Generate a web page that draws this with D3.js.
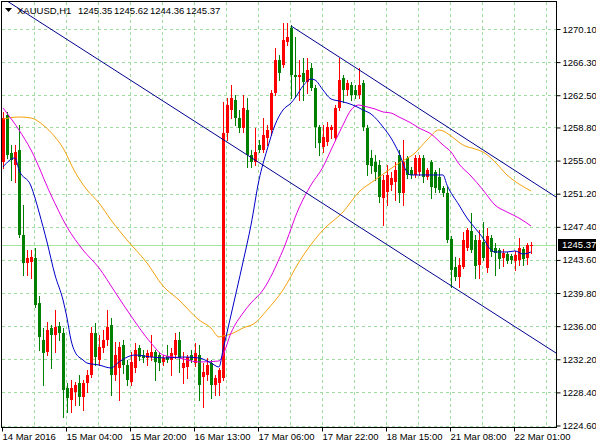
<!DOCTYPE html>
<html><head><meta charset="utf-8">
<script src="https://cdn.jsdelivr.net/npm/d3@7"></script>
<style>
html,body{margin:0;padding:0;background:#fff;}
svg{display:block;}
text{font-family:"Liberation Sans",Arial,sans-serif;}
</style></head><body>
<svg id="chart" width="596" height="441"></svg>
<script>
const symbolName = "XAUUSD,H1";
const candleOpen = [
1254.84,1260.23,1255.87,1254.50,1256.22,1246.46,1243.25,1243.36,1243.82,1238.66,
1234.41,1233.04,1235.79,1234.99,1236.02,1235.22,1228.90,1227.53,1228.44,1229.48,
1227.87,1229.48,1230.39,1235.22,1232.12,1233.49,1234.41,1236.13,1230.39,1231.20,
1233.84,1231.54,1229.59,1231.20,1233.49,1232.69,1232.35,1232.46,1233.04,1232.69,
1231.89,1232.58,1232.12,1232.69,1234.41,1231.20,1231.31,1232.69,1231.77,1232.69,
1230.16,1230.39,1231.77,1229.25,1229.48,1230.05,1258.17,1260.81,1261.95,1259.89,
1258.74,1260.81,1255.64,1254.84,1256.79,1256.22,1257.59,1258.51,1262.76,1266.54,
1265.97,1268.61,1270.22,1264.82,1264.59,1265.05,1264.02,1265.63,1263.33,1258.86,
1256.56,1257.13,1258.51,1257.59,1261.04,1264.48,1263.10,1263.68,1263.10,1262.53,
1263.90,1258.74,1255.30,1254.84,1254.50,1250.71,1251.40,1252.20,1252.54,1255.64,
1251.28,1255.30,1253.92,1253.35,1253.69,1255.30,1253.12,1254.84,1253.69,1253.12,
1251.85,1251.28,1246.00,1242.79,1241.64,1242.79,1244.97,1246.92,1245.89,1243.02,
1245.66,1242.68,1246.12,1244.97,1244.74,1243.82,1244.28,1244.05,1243.48,1243.59,
1244.85,1243.82,1245.35];
const candleHigh = [
1260.58,1260.58,1256.79,1256.79,1259.09,1249.90,1244.74,1244.74,1244.97,1239.46,
1235.79,1236.48,1236.13,1237.85,1236.48,1235.79,1229.48,1229.82,1229.59,1230.39,
1229.82,1230.97,1235.90,1236.36,1234.99,1235.56,1237.85,1236.94,1234.18,1234.18,
1234.41,1232.12,1233.04,1234.07,1233.84,1233.27,1233.27,1234.99,1233.27,1233.04,
1232.69,1233.84,1233.49,1235.22,1235.33,1233.04,1232.69,1233.27,1234.07,1233.84,
1231.77,1232.35,1232.12,1230.39,1231.20,1261.72,1262.18,1263.68,1262.53,1260.81,
1262.53,1262.18,1256.22,1258.74,1257.36,1259.89,1259.09,1263.10,1267.92,1267.12,
1270.79,1270.79,1270.56,1269.18,1266.54,1266.77,1266.77,1266.20,1263.68,1259.09,
1259.09,1259.43,1259.09,1261.38,1266.77,1264.82,1264.25,1264.02,1263.68,1265.63,
1264.25,1259.09,1256.22,1255.64,1255.07,1253.35,1254.50,1253.69,1254.84,1256.22,
1257.36,1255.53,1254.27,1255.64,1255.64,1255.64,1254.15,1255.07,1253.92,1254.15,
1252.08,1251.97,1246.35,1243.94,1243.82,1246.81,1247.26,1248.99,1246.46,1247.04,
1247.95,1247.26,1246.46,1245.54,1244.97,1244.85,1244.51,1244.28,1244.63,1246.12,
1245.08,1245.54,1245.62];
const candleLow = [
1254.15,1255.30,1252.77,1252.54,1246.23,1241.87,1241.87,1241.53,1238.20,1233.27,
1229.25,1232.69,1231.20,1233.04,1234.41,1225.58,1226.15,1226.15,1226.95,1226.95,
1226.38,1228.44,1230.16,1231.54,1231.54,1233.04,1233.84,1228.10,1229.82,1227.53,
1230.62,1229.25,1229.25,1230.74,1232.12,1231.89,1231.54,1232.12,1229.82,1230.97,
1231.54,1231.89,1230.39,1232.35,1230.74,1229.48,1230.05,1231.89,1231.43,1227.53,
1226.72,1229.82,1227.75,1228.10,1228.10,1229.82,1257.36,1259.89,1259.09,1258.28,
1258.28,1254.27,1254.27,1254.50,1255.99,1255.99,1256.79,1257.94,1262.53,1264.25,
1265.74,1268.27,1262.18,1262.30,1261.95,1261.95,1262.76,1263.10,1256.56,1255.64,
1255.99,1256.79,1257.59,1257.36,1260.81,1261.72,1262.53,1261.95,1262.18,1262.18,
1258.51,1253.35,1253.58,1252.77,1250.25,1247.61,1249.90,1251.63,1250.48,1250.25,
1249.90,1253.00,1253.00,1253.12,1253.35,1252.54,1252.89,1250.71,1251.40,1251.40,
1250.94,1245.66,1240.49,1241.30,1240.49,1242.68,1244.74,1244.51,1241.53,1241.53,
1243.59,1242.22,1244.05,1241.87,1242.68,1242.91,1243.25,1243.25,1242.45,1243.02,
1243.02,1243.13,1244.36];
const candleClose = [
1259.89,1255.64,1255.07,1255.99,1246.46,1243.25,1243.82,1243.94,1238.43,1234.76,
1232.92,1235.56,1234.99,1235.90,1235.22,1228.67,1227.75,1228.90,1229.25,1227.87,
1229.48,1230.39,1235.22,1232.46,1233.61,1234.41,1235.90,1230.39,1232.69,1233.61,
1231.54,1229.82,1231.89,1233.27,1232.46,1232.35,1232.92,1233.04,1231.89,1231.77,
1232.35,1232.12,1232.92,1234.41,1232.35,1231.77,1232.46,1232.12,1232.92,1229.25,
1230.74,1231.54,1229.25,1230.05,1230.97,1258.17,1261.38,1262.18,1259.89,1258.74,
1261.04,1255.64,1254.84,1255.99,1256.22,1257.94,1258.51,1262.76,1266.54,1265.05,
1268.84,1269.18,1264.82,1264.59,1264.82,1264.02,1265.40,1263.33,1258.86,1257.02,
1257.71,1258.86,1258.86,1261.04,1264.25,1263.10,1263.90,1262.53,1262.53,1263.68,
1258.86,1254.50,1254.38,1253.69,1250.82,1252.77,1253.35,1253.00,1253.92,1251.28,
1254.84,1253.35,1253.35,1255.30,1255.30,1253.12,1253.92,1251.97,1251.85,1251.63,
1251.28,1245.89,1242.45,1241.64,1243.02,1245.89,1247.04,1244.74,1242.91,1245.89,
1243.82,1246.35,1244.51,1244.40,1243.71,1244.40,1243.48,1243.59,1244.17,1244.97,
1243.71,1245.31,1245.37];

const maFastBars = [0,3,4,7,8,9,11,13,15,16,17,18,20,21,24,27,29,33,37,41,45,49,52,54,55,57,60,62,64,66,68,70,72,73,75,77,78,80,82,84,86,88,90,92,95,97,99,101,102,110,111,114,116,118,120,122,123,126,128,130,132];
const maFastValues = [1254.27,1255.30,1253.92,1252.08,1250.71,1249.10,1245.66,1241.87,1239.00,1236.94,1234.41,1233.04,1232.12,1231.77,1231.54,1231.20,1231.89,1232.69,1232.46,1232.35,1232.46,1232.35,1231.77,1231.31,1233.27,1237.28,1243.36,1247.61,1252.77,1256.22,1259.09,1260.81,1261.61,1262.18,1263.56,1264.36,1264.25,1263.10,1262.07,1261.84,1261.61,1261.27,1260.81,1260.35,1258.86,1257.59,1255.87,1253.69,1253.35,1253.35,1252.20,1249.90,1248.41,1247.26,1246.12,1244.74,1244.51,1244.51,1244.63,1244.28,1244.51];
const maMidBars = [0,4,7,12,16,20,24,28,32,37,40,44,49,54,55,57,60,62,65,70,74,77,80,82,85,87,89,90,93,95,97,99,102,104,107,110,112,114,117,120,123,126,129,132];
const maMidValues = [1261.04,1258.51,1256.22,1251.05,1247.38,1244.74,1242.68,1239.92,1237.17,1234.07,1232.69,1232.35,1231.89,1232.00,1232.69,1235.22,1237.51,1238.66,1240.15,1244.74,1249.56,1252.20,1254.27,1256.22,1259.09,1260.81,1261.38,1261.27,1260.92,1260.58,1260.46,1260.00,1259.31,1258.74,1258.05,1256.79,1255.99,1254.61,1253.23,1251.63,1249.90,1249.10,1248.41,1247.49];
const maSlowBars = [0,4,7,10,13,15,18,21,24,27,31,36,40,44,49,52,54,55,57,60,63,66,70,74,80,85,89,93,99,103,106,109,110,112,115,118,120,123,126,129,132];
const maSlowValues = [1259.77,1260.00,1259.89,1259.09,1257.71,1256.45,1253.69,1251.63,1250.13,1248.18,1245.89,1243.25,1240.61,1239.00,1236.71,1235.79,1234.76,1234.87,1235.10,1235.79,1236.36,1237.85,1240.15,1243.36,1247.04,1249.10,1251.40,1252.77,1254.72,1255.87,1257.36,1258.51,1258.40,1257.82,1256.79,1256.33,1255.99,1254.84,1253.35,1252.31,1251.51];

// channel lines: [startBar, startPrice, endBar, endPrice]
const channelLower = [0, 1273.61, 138.25, 1232.92];
const channelUpper = [72, 1270.45, 138.25, 1250.82];

const yTicks = [1224.60,1228.40,1232.20,1236.00,1239.80,1243.60,1247.40,1251.20,1255.00,1258.80,1262.50,1266.30,1270.10];
const xTickBars = [0,16,32,48,64,80,96,112,128];
const xTickLabels = ["14 Mar 2016","15 Mar 04:00","15 Mar 20:00","16 Mar 13:00","17 Mar 06:00","17 Mar 22:00","18 Mar 15:00","21 Mar 08:00","22 Mar 01:00"];

const svg = d3.select("#chart");
const L = 2, R = 556, T = 2, B = 427;
const x = d3.scaleLinear().domain([-0.25, 138.25]).range([L, R]);
const y = d3.scaleLinear().domain([1224.6, 1270.1]).range([425.5, 29]);
const FONT = 9.5;
const gridColor = "#9fdc9f";

svg.append("rect").attr("width",596).attr("height",441).attr("fill","#fff");
svg.append("defs").append("clipPath").attr("id","clip")
  .append("rect").attr("x",L).attr("y",T).attr("width",R-L).attr("height",B-T);

// grid
const grid = svg.append("g");
yTicks.forEach(v=>{
  const yy = Math.round(y(v))+0.5;
  grid.append("line").attr("x1",L).attr("x2",R).attr("y1",yy).attr("y2",yy)
    .attr("stroke",gridColor).attr("stroke-dasharray","3,3");
});
d3.range(8, 137, 8).forEach(b=>{
  const xx = Math.round(x(b-0.25))+0.5;
  grid.append("line").attr("x1",xx).attr("x2",xx).attr("y1",T).attr("y2",B)
    .attr("stroke",gridColor).attr("stroke-dasharray","3,3");
});

const lastIdx = candleClose.length-1;
const plotG = svg.append("g").attr("clip-path","url(#clip)");
// bid line
const bidY = Math.round(y(candleClose[lastIdx]))+0.5;
plotG.append("line").attr("x1",L).attr("x2",R).attr("y1",bidY).attr("y2",bidY)
  .attr("stroke","#a6e6a0").attr("stroke-width",1);

// candles
const up = "#ff0000", down = "#008000";
candleOpen.forEach((o,i)=>{
  const c = candleClose[i], h = candleHigh[i], l = candleLow[i];
  const col = c >= o ? up : down;
  const cx = Math.round(x(i));
  plotG.append("line").attr("x1",cx+0.5).attr("x2",cx+0.5)
    .attr("y1",Math.round(y(h))).attr("y2",Math.round(y(l))+1)
    .attr("stroke",col).attr("stroke-width",1);
  const yTop = Math.round(y(Math.max(o,c)));
  const yBot = Math.round(y(Math.min(o,c)));
  plotG.append("rect").attr("x",cx-1).attr("width",3)
    .attr("y",yTop).attr("height",Math.max(1,yBot-yTop)).attr("fill",col);
});

// moving averages
const line = d3.line().x(d=>x(d[0])).y(d=>y(d[1])).curve(d3.curveMonotoneX);
function drawMA(bars, vals, color){
  plotG.append("path").datum(bars.map((b,i)=>[b, vals[i]]))
    .attr("d", line).attr("fill","none").attr("stroke",color).attr("stroke-width",1);
}
drawMA(maSlowBars, maSlowValues, "#f5a30f");
drawMA(maMidBars, maMidValues, "#e100e1");
drawMA(maFastBars, maFastValues, "#0000c8");

// channel trend lines
[channelLower, channelUpper].forEach(t=>{
  plotG.append("line").attr("x1",x(t[0])).attr("y1",y(t[1])).attr("x2",x(t[2])).attr("y2",y(t[3]))
    .attr("stroke","#00008c").attr("stroke-width",1);
});

// frame
svg.append("rect").attr("x",L-0.5).attr("y",T-0.5).attr("width",R-L+1).attr("height",B-T+1)
  .attr("fill","none").attr("stroke","#000").attr("stroke-width",1);

// y axis
const yAxis = d3.axisRight(y).tickValues(yTicks).tickSize(4).tickPadding(2)
  .tickFormat(d=>d.toFixed(2));
const yg = svg.append("g").attr("transform",`translate(${R+0.5},0)`).call(yAxis);
yg.select(".domain").remove();
yg.selectAll("text").attr("font-size",FONT).attr("font-family","Liberation Sans, Arial, sans-serif").attr("fill","#000");
yg.selectAll("line").attr("stroke","#000");

// x axis
const xAxis = d3.axisBottom(x).tickValues(xTickBars).tickSize(4).tickPadding(2)
  .tickFormat((d,i)=>xTickLabels[i]);
const xg = svg.append("g").attr("transform",`translate(-1,${B+0.5})`).call(xAxis);
xg.select(".domain").remove();
xg.selectAll("text").attr("font-size",FONT).attr("font-family","Liberation Sans, Arial, sans-serif")
  .attr("fill","#000").attr("text-anchor","start").attr("x",0);
xg.selectAll("line").attr("stroke","#000");

// price tag
const lastClose = candleClose[lastIdx];
const tagY = y(lastClose);
svg.append("rect").attr("x",R+2).attr("y",Math.round(tagY)-6).attr("width",596-R-2).attr("height",12).attr("fill","#000");
svg.append("text").attr("x",R+6).attr("y",tagY).attr("dy","0.35em")
  .attr("font-size",FONT).attr("fill","#fff").text(lastClose.toFixed(2));

// header
svg.append("path").attr("d","M5,8 L12,8 L8.5,12 Z").attr("fill","#000");
const hdr = svg.append("text").attr("y",14).attr("font-size",FONT).attr("fill","#000");
const hdrParts = [symbolName, candleOpen[lastIdx].toFixed(2), candleHigh[lastIdx].toFixed(2), candleLow[lastIdx].toFixed(2), candleClose[lastIdx].toFixed(2)];
const hdrX = [17, 78, 114, 150, 186];
hdrParts.forEach((t,i)=>hdr.append("tspan").attr("x",hdrX[i]).text(t));
</script>
</body></html>
